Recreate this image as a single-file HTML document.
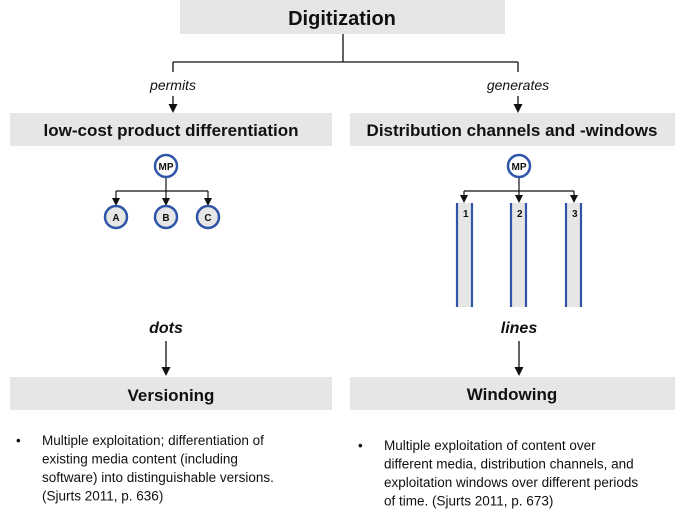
<!DOCTYPE html>
<html><head><meta charset="utf-8"><style>
body{margin:0;background:#fff;width:685px;height:509px;overflow:hidden;font-family:"Liberation Sans",Arial,sans-serif}
</style></head><body>
<svg width="685" height="509" viewBox="0 0 685 509" xmlns="http://www.w3.org/2000/svg" font-family="Liberation Sans, Arial, sans-serif">
<rect x="180" y="0" width="325" height="34" fill="#e6e6e6"/>
<text x="342" y="25" font-size="20" font-weight="bold" text-anchor="middle" fill="#111">Digitization</text>
<g stroke="#111" stroke-width="1.3" fill="none">
<path d="M343,34 V62 M173,62 H518 M173,62 V72 M518,62 V72"/>
<path d="M173,96 V105 M518,96 V105 M166,341 V368 M519,341 V368"/>
</g>
<g fill="#111">
<path d="M168.5,104 L177.5,104 L173,113z M513.5,104 L522.5,104 L518,113z"/>
<path d="M161.5,367 L170.5,367 L166,376z M514.5,367 L523.5,367 L519,376z"/>
</g>
<text x="173" y="90" font-size="14" font-style="italic" text-anchor="middle" fill="#111">permits</text>
<text x="518" y="90" font-size="14" font-style="italic" text-anchor="middle" fill="#111">generates</text>
<rect x="10" y="113" width="322" height="33" fill="#e6e6e6"/>
<rect x="350" y="113" width="325" height="33" fill="#e6e6e6"/>
<text x="171" y="136" font-size="17" font-weight="bold" text-anchor="middle" fill="#111">low-cost product differentiation</text>
<text x="512" y="136" font-size="17" font-weight="bold" text-anchor="middle" fill="#111">Distribution channels and -windows</text>
<g stroke="#111" stroke-width="1.2" fill="none">
<path d="M166,177 V200 M116,191 H208 M116,191 V200 M208,191 V200"/>
<path d="M519,177 V196 M464,191 H574 M464,191 V196 M574,191 V196"/>
</g>
<g fill="#111">
<path d="M112,198 L120,198 L116,206z M162,198 L170,198 L166,206z M204,198 L212,198 L208,206z"/>
<path d="M460,195 L468,195 L464,203z M515,195 L523,195 L519,203z M570,195 L578,195 L574,203z"/>
</g>
<g stroke="#2f55a8" stroke-width="2.5" fill="#fff">
<circle cx="166" cy="166" r="11"/><circle cx="519" cy="166" r="11"/>
</g>
<g stroke="#2f55a8" stroke-width="2.5" fill="#e6e6e6">
<circle cx="116" cy="217" r="11"/><circle cx="166" cy="217" r="11"/><circle cx="208" cy="217" r="11"/>
</g>
<g font-size="10" font-weight="bold" text-anchor="middle" fill="#111">
<text x="166" y="170">MP</text><text x="519" y="170">MP</text>
<text x="116" y="221">A</text><text x="166" y="221">B</text><text x="208" y="221">C</text>
</g>
<g fill="#e6e6e6"><rect x="457" y="203" width="15" height="104"/><rect x="511" y="203" width="15" height="104"/><rect x="566" y="203" width="15" height="104"/></g>
<g stroke="#2f55a8" stroke-width="2.2">
<path d="M457,203 V307 M472,203 V307 M511,203 V307 M526,203 V307 M566,203 V307 M581,203 V307"/>
</g>
<g font-size="10" font-weight="bold" fill="#111"><text x="463" y="217">1</text><text x="517" y="217">2</text><text x="572" y="217">3</text></g>
<text x="166" y="333" font-size="16" font-weight="bold" font-style="italic" text-anchor="middle" fill="#111">dots</text>
<text x="519" y="333" font-size="16" font-weight="bold" font-style="italic" text-anchor="middle" fill="#111">lines</text>
<rect x="10" y="377" width="322" height="33" fill="#e6e6e6"/>
<rect x="350" y="377" width="325" height="33" fill="#e6e6e6"/>
<text x="171" y="401" font-size="17" font-weight="bold" text-anchor="middle" fill="#111">Versioning</text>
<text x="512" y="400" font-size="17" font-weight="bold" text-anchor="middle" fill="#111">Windowing</text>
<g font-size="13.5" fill="#111">
<text x="16" y="445">•</text>
<text x="42" y="445">Multiple exploitation; differentiation of</text>
<text x="42" y="463.5">existing media content (including</text>
<text x="42" y="482">software) into distinguishable versions.</text>
<text x="42" y="500.5">(Sjurts 2011, p. 636)</text>
<text x="358" y="450">•</text>
<text x="384" y="450">Multiple exploitation of content over</text>
<text x="384" y="468.5">different media, distribution channels, and</text>
<text x="384" y="487">exploitation windows over different periods</text>
<text x="384" y="505.5">of time. (Sjurts 2011, p. 673)</text>
</g>
</svg>
</body></html>
